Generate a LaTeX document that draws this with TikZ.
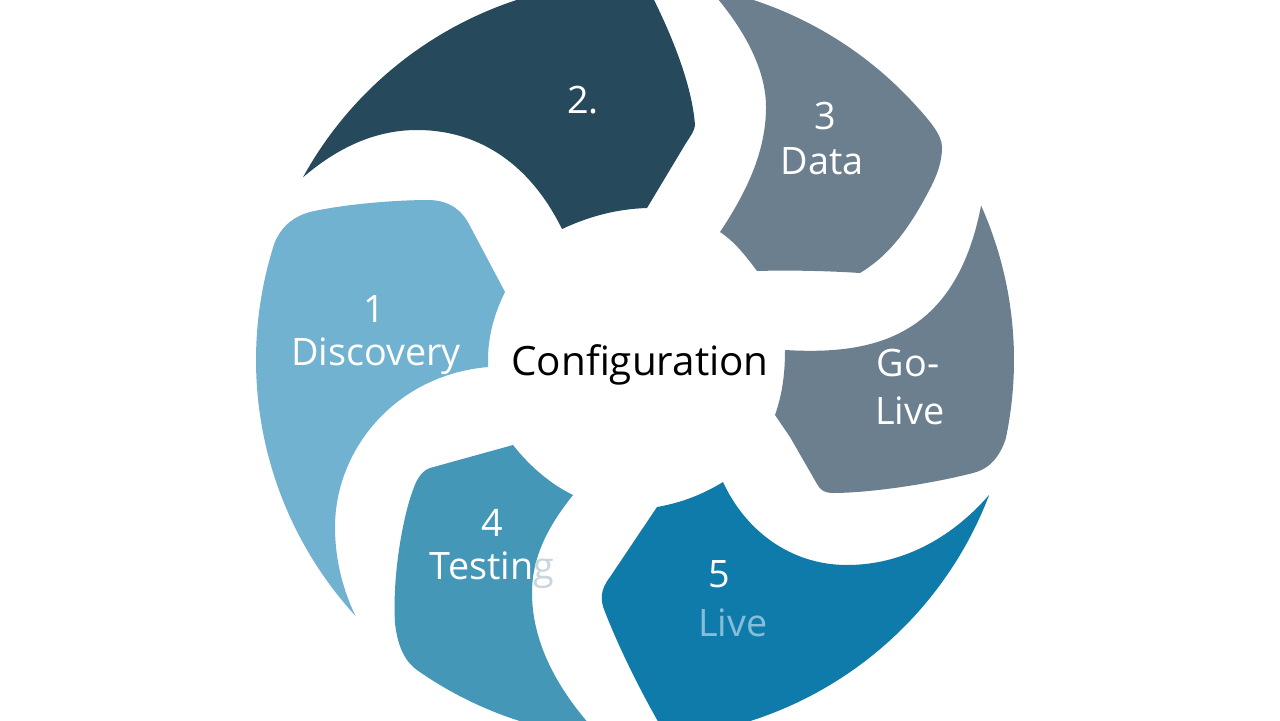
\documentclass[tikz,border=0pt]{standalone}
\usepackage{fontspec}
\setmainfont{Open Sans}
\definecolor{cDark}{HTML}{264A5C}
\definecolor{cSlate}{HTML}{6C7F8E}
\definecolor{cLight}{HTML}{70B2CF}
\definecolor{cMid}{HTML}{4497B7}
\definecolor{cDeep}{HTML}{0F7BAA}
\definecolor{cFade}{HTML}{86BEDA}
\definecolor{cGhost}{HTML}{C9D6DC}
\tikzset{
  lab/.style={text=white,font=\fontsize{21.5}{21.5}\selectfont,inner sep=0pt,anchor=base},
  centre/.style={text=black,font=\fontsize{23}{23}\selectfont,inner sep=0pt,anchor=base},
  rim/.style={domain=#1,samples=60,smooth}
}
\newcommand{\rimx}{635+379*cos(\x)}
\newcommand{\rimy}{360+379*sin(\x)}
\begin{document}
\begin{tikzpicture}[x=0.02cm,y=-0.02cm]
\useasboundingbox (0,0) rectangle (1280,720);
\clip (0,0) rectangle (1280,720);
\fill[white] (0,0) rectangle (1280,720);
% 1
\fill[cLight] plot[rim=137.5:198] ({\rimx},{\rimy})
  .. controls (282,225) and (295,216) .. (310,212)
  .. controls (340,205) and (390,200) .. (430,200)
  .. controls (450,201) and (462,210) .. (470,226)
  -- (505,292)
  .. controls (495,312) and (488,335) .. (488,360)
  -- (488,367)
  .. controls (395,375) and (335,450) .. (335,527)
  .. controls (335,560) and (343,590) .. (355.6,616.2) -- cycle;
% 2
\fill[cDark] plot[rim=208.8:256] ({\rimx},{\rimy})
  -- (650,-8)
  .. controls (672,35) and (692,85) .. (695,125)
  .. controls (695,130) and (690,137) .. (686,143)
  -- (647,208)
  .. controls (617,209) and (590,216) .. (562,229)
  .. controls (528,160) and (475,130) .. (417,130)
  .. controls (375,130) and (337,148) .. (302.9,177.4) -- cycle;
% 3
\fill[cSlate] plot[rim=-73:-42] ({\rimx},{\rimy})
  .. controls (929,120) and (942,135) .. (942,147)
  .. controls (942,165) and (935,180) .. (925,198)
  .. controls (905,235) and (885,258) .. (860,273)
  .. controls (830,271) and (790,270) .. (757,271)
  .. controls (745,255) and (735,242) .. (720,232)
  .. controls (748,190) and (766,150) .. (766,107)
  .. controls (766,70) and (745,30) .. (712,-8) -- cycle;
% Go-Live
\fill[cSlate] plot[rim=-24:12] ({\rimx},{\rimy})
  .. controls (998,462) and (985,470) .. (973,473)
  .. controls (930,484) and (870,493) .. (832,493)
  .. controls (825,493) and (820,490) .. (817,484)
  -- (790,437) -- (775,415)
  .. controls (782,395) and (785,375) .. (785,350)
  .. controls (870,355) and (955,340) .. (981,206) -- cycle;
% 4
\fill[cMid] plot[rim=100:125] ({\rimx},{\rimy})
  .. controls (407,663) and (398,650) .. (395,623)
  .. controls (392,570) and (405,510) .. (413,490)
  .. controls (417,478) and (422,471) .. (430,468)
  -- (513,445)
  .. controls (527,463) and (548,483) .. (573,495)
  .. controls (545,530) and (532,560) .. (532,593)
  .. controls (532,640) and (555,685) .. (590,725) -- cycle;
% 5
\fill[cDeep] plot[rim=20.9:75] ({\rimx},{\rimy})
  -- (660,725)
  .. controls (640,690) and (620,650) .. (605,612)
  .. controls (600,600) and (600,590) .. (610,577)
  -- (657,507)
  .. controls (680,503) and (702,495) .. (723,482)
  .. controls (745,530) and (790,565) .. (847,565)
  .. controls (900,565) and (950,540) .. (989,495) -- cycle;
% texts
\node[lab] (n1) at (374,322) {1};
\node[lab] (t1) at (376,365) {Discovery};
\node[lab] (n2) at (583,113) {2.};
\node[lab] (n3) at (825,129) {3};
\node[lab] (t3) at (822,174) {Data};
\node[lab] (tg) at (908,376) {Go-};
\node[lab] (tl) at (910,424) {Live};
\node[lab] (n4) at (492,536) {4};
\node[lab] (t4) at (492,579) {Testin{\color{cGhost}g}};
\node[lab] (n5) at (719,587) {5};
\node[lab,text=cFade] (t5) at (733,636) {Live};
\node[centre] (c) at (640,375) {Configuration};
\end{tikzpicture}
\end{document}
